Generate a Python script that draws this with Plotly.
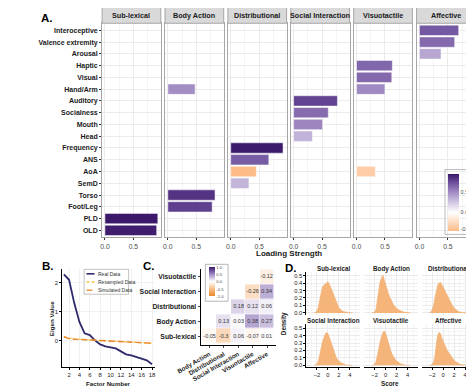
import plotly.graph_objects as go

W, H = 474, 389
def fx(p): return p / W
def fy(p): return 1 - p / H

FONT = "Liberation Sans, Arial, Helvetica, sans-serif"
INK = "#1A1A1A"
TICK = "#4D4D4D"

# ---------------- Panel A data ----------------
variables = ["Interoceptive", "Valence extremity", "Arousal", "Haptic", "Visual", "Hand/Arm",
             "Auditory", "Socialness", "Mouth", "Head", "Frequency", "ANS", "AoA", "SemD",
             "Torso", "Foot/Leg", "PLD", "OLD"]
factor_names = ["Sub-lexical", "Body Action", "Distributional", "Social Interaction",
                "Visuotactile", "Affective"]
sublex_vars = ["PLD", "OLD"]
sublex_load = [0.93, 0.91]
body_vars = ["Hand/Arm", "Torso", "Foot/Leg"]
body_load = [0.48, 0.83, 0.78]
dist_vars = ["Frequency", "ANS", "AoA", "SemD"]
dist_load = [0.92, 0.67, -0.45, 0.32]
social_vars = ["Auditory", "Socialness", "Mouth", "Head"]
social_load = [0.77, 0.61, 0.51, 0.33]
visuo_vars = ["Haptic", "Visual", "Hand/Arm", "AoA"]
visuo_load = [0.63, 0.62, 0.50, -0.33]
affect_vars = ["Interoceptive", "Valence extremity", "Arousal"]
affect_load = [0.69, 0.62, 0.38]
loading_ticks = [0, 0.5]
loading_ticktext = ["0.0", "0.5"]
loading_cbar_ticks = [-0.4, 0.0, 0.5]
loading_cbar_text = ["-0.4", "0.0", "0.5"]

# ---------------- Panel B data ----------------
factor_number = [1, 2, 3, 4, 5, 6, 7, 8, 9, 10, 11, 12, 13, 14, 15, 16, 17, 18]
real_eigen = [2.29, 2.10, 1.30, 0.65, 0.26, 0.20, 0.02, -0.12, -0.19, -0.22, -0.26,
              -0.36, -0.46, -0.50, -0.56, -0.63, -0.67, -0.80]
resampled_eigen = [0.15, 0.09, 0.07, 0.05, 0.04, 0.03, 0.02, 0.01, 0.00, -0.01, -0.02,
                   -0.02, -0.03, -0.04, -0.05, -0.06, -0.07, -0.08]
simulated_eigen = [0.14, 0.08, 0.06, 0.05, 0.04, 0.03, 0.02, 0.01, 0.00, -0.01, -0.02,
                   -0.03, -0.03, -0.04, -0.05, -0.06, -0.07, -0.08]
factor_ticks = [2, 4, 6, 8, 10, 12, 14, 16, 18]
eigen_ticks = [0, 1, 2]

# ---------------- Panel C data ----------------
corr_rows = ["Sub-lexical", "Body Action", "Distributional", "Social Interaction", "Visuotactile"]
corr_cols = ["Body Action", "Distributional", "Social Interaction", "Visuotactile", "Affective"]
corr_sublex = [-0.05, -0.30, 0.06, -0.07, 0.01]
corr_body = [None, 0.13, 0.03, 0.38, 0.27]
corr_dist = [None, None, 0.18, 0.12, 0.06]
corr_social = [None, None, None, -0.26, 0.34]
corr_visuo = [None, None, None, None, -0.12]
corr_cbar_ticks = [-1, -0.5, 0, 0.5, 1]
corr_cbar_text = ["-1.0", "-0.5", "0.0", "0.5", "1.0"]

# ---------------- Panel D data ----------------
score_grid = [-2.5, -2.25, -2.0, -1.75, -1.5, -1.25, -1.0, -0.75, -0.5, -0.25, 0.0, 0.25,
              0.5, 0.75, 1.0, 1.25, 1.5, 1.75, 2.0, 2.25, 2.5, 2.75, 3.0, 3.25, 3.5, 3.75,
              4.0, 4.25, 4.5]
dens_sublex = [0, 0.005, 0.02, 0.07, 0.18, 0.30, 0.35, 0.37, 0.38, 0.40, 0.42, 0.39, 0.35,
               0.30, 0.25, 0.20, 0.15, 0.11, 0.07, 0.05, 0.03, 0.02, 0.015, 0.01, 0.007,
               0.005, 0.003, 0.001, 0]
dens_body = [0, 0.002, 0.01, 0.05, 0.15, 0.30, 0.42, 0.48, 0.51, 0.44, 0.37, 0.31, 0.26,
             0.21, 0.17, 0.13, 0.10, 0.08, 0.06, 0.045, 0.035, 0.025, 0.018, 0.012, 0.008,
             0.005, 0.003, 0.002, 0]
dens_dist = [0.002, 0.01, 0.04, 0.10, 0.20, 0.30, 0.37, 0.40, 0.41, 0.38, 0.35, 0.31, 0.27,
             0.23, 0.19, 0.15, 0.12, 0.09, 0.065, 0.045, 0.03, 0.02, 0.013, 0.008, 0.005,
             0.003, 0.002, 0.001, 0]
dens_social = [0, 0.005, 0.02, 0.05, 0.12, 0.22, 0.31, 0.38, 0.42, 0.44, 0.43, 0.38, 0.32,
               0.26, 0.20, 0.15, 0.11, 0.08, 0.055, 0.04, 0.03, 0.02, 0.013, 0.008, 0.005,
               0.003, 0.002, 0.001, 0]
dens_visuo = [0, 0.005, 0.015, 0.05, 0.12, 0.22, 0.32, 0.40, 0.44, 0.46, 0.43, 0.37, 0.30,
              0.23, 0.18, 0.14, 0.10, 0.08, 0.06, 0.04, 0.03, 0.02, 0.013, 0.008, 0.005,
              0.003, 0.002, 0.001, 0]
dens_affect = [0, 0.003, 0.01, 0.04, 0.12, 0.28, 0.40, 0.44, 0.43, 0.37, 0.32, 0.28, 0.24,
               0.20, 0.17, 0.14, 0.11, 0.085, 0.065, 0.05, 0.035, 0.025, 0.017, 0.011,
               0.007, 0.004, 0.002, 0.001, 0]
score_ticks = [-2, 0, 2, 4]
density_ticks = [0.0, 0.1, 0.2, 0.3, 0.4, 0.5]
density_ticktext = ["0.0", "0.1", "0.2", "0.3", "0.4", "0.5"]

# =====================================================================
fig = go.Figure()
layout = dict(width=W, height=H, autosize=False, margin=dict(l=0, r=0, t=0, b=0),
              paper_bgcolor="white", plot_bgcolor="white", showlegend=False,
              font=dict(family=FONT, color=INK))
shapes, annotations = [], []

def ax_names(n):
    return ("x" if n == 1 else f"x{n}", "y" if n == 1 else f"y{n}",
            "xaxis" if n == 1 else f"xaxis{n}", "yaxis" if n == 1 else f"yaxis{n}")

# ---------------- Panel A ----------------
A_scale = [[0.0, "#FDBB87"], [0.326, "#FFFFFF"], [0.507, "#D0C6E2"], [0.688, "#9F89C2"],
           [0.870, "#664896"], [1.0, "#3B1869"]]
facet_data = [(sublex_vars, sublex_load), (body_vars, body_load), (dist_vars, dist_load),
              (social_vars, social_load), (visuo_vars, visuo_load), (affect_vars, affect_load)]
NV = len(variables)
A_top, A_bot = 15.3, 230
for i, (vs, ls) in enumerate(facet_data):
    n = i + 1
    xn, yn, xk, yk = ax_names(n)
    ypos = [NV - 1 - variables.index(v) for v in vs]
    fig.add_trace(go.Bar(x=[abs(v) for v in ls], y=ypos, orientation="h", width=0.88,
                         marker=dict(color=ls, coloraxis="coloraxis",
                                     line=dict(color="white", width=0.5)),
                         xaxis=xn, yaxis=yn, hoverinfo="skip"))
    l = 74 + i * 66.4
    layout[xk] = dict(domain=[fx(l), fx(l + 62)], anchor=yn, range=[-0.05, 0.983],
                      tickmode="array", tickvals=loading_ticks, ticktext=loading_ticktext,
                      ticks="outside", ticklen=2, tickwidth=0.8, tickcolor="#333",
                      tickfont=dict(size=6.8, color=TICK), showgrid=True,
                      gridcolor="#EBEBEB", gridwidth=0.7,
                      minor=dict(tickvals=[0.25, 0.75], showgrid=True, gridcolor="#F4F4F4",
                                 gridwidth=0.5),
                      showline=True, mirror=True, linecolor="#A6A6A6", linewidth=1,
                      zeroline=False)
    layout[yk] = dict(domain=[fy(A_bot), fy(A_top)], anchor=xn, range=[-0.6, 17.6],
                      tickmode="array", tickvals=[NV - 1 - k for k in range(NV)],
                      ticktext=variables, showticklabels=(n == 1),
                      ticks="outside" if n == 1 else "", ticklen=2, tickwidth=0.8,
                      tickcolor="#333",
                      tickfont=dict(size=7, color=INK, weight="bold"),
                      showgrid=True, gridcolor="#EBEBEB", gridwidth=0.7,
                      showline=True, mirror=True, linecolor="#A6A6A6", linewidth=1,
                      zeroline=False)
    shapes.append(dict(type="rect", xref="paper", yref="paper", x0=fx(l), x1=fx(l + 62),
                       y0=fy(A_top), y1=fy(-2), fillcolor="#D9D9D9",
                       line=dict(color="#A6A6A6", width=1)))
    annotations.append(dict(x=fx(l + 31), y=fy(7.3), xref="paper", yref="paper",
                            text=f"<b>{factor_names[i]}</b>", showarrow=False,
                            font=dict(size=7.2, color=INK), xanchor="center", yanchor="middle"))

layout["coloraxis"] = dict(cmin=-0.45, cmax=0.93, colorscale=A_scale,
                           colorbar=dict(x=fx(439), xanchor="left", xpad=0, y=fy(166.5),
                                         yanchor="top", ypad=0, len=57, lenmode="pixels",
                                         thickness=11, thicknessmode="pixels", outlinewidth=0,
                                         tickmode="array", tickvals=loading_cbar_ticks,
                                         ticktext=loading_cbar_text, ticks="",
                                         tickfont=dict(size=5.5, color=TICK)))
shapes.append(dict(type="rect", xref="paper", yref="paper", x0=fx(436), x1=fx(466),
                   y0=fy(227), y1=fy(162), line=dict(color="#AAAAAA", width=0.8)))
annotations.append(dict(x=fx(271), y=fy(246), xref="paper", yref="paper",
                        text="<b>Loading Strength</b>", showarrow=False,
                        font=dict(size=8, color=INK), xanchor="center", yanchor="middle"))

# ---------------- Panel B ----------------
fig.add_trace(go.Scatter(x=factor_number, y=real_eigen, mode="lines",
                         line=dict(color="#2E2A6C", width=1.8), xaxis="x7", yaxis="y7"))
fig.add_trace(go.Scatter(x=factor_number, y=resampled_eigen, mode="lines",
                         line=dict(color="#F5C443", width=1.4, dash="3px,2px"),
                         xaxis="x7", yaxis="y7"))
fig.add_trace(go.Scatter(x=factor_number, y=simulated_eigen, mode="lines",
                         line=dict(color="#E8852E", width=1.4, dash="6px,3px"),
                         xaxis="x7", yaxis="y7"))
common_axis = dict(showline=True, linecolor="black", linewidth=1, ticks="outside", ticklen=2,
                   tickwidth=0.8, tickcolor="black", zeroline=False, showgrid=True,
                   gridcolor="#F0F0F0", gridwidth=0.5)
layout["xaxis7"] = dict(domain=[fx(32), fx(130)], anchor="y7", range=[0.7, 18.6],
                        tickmode="array", tickvals=factor_ticks,
                        tickfont=dict(size=6, color=INK), **common_axis)
layout["yaxis7"] = dict(domain=[fy(360), fy(262)], anchor="x7", range=[-0.9, 2.46],
                        tickmode="array", tickvals=eigen_ticks,
                        tickfont=dict(size=6, color=INK), **common_axis)
annotations.append(dict(x=fx(81), y=fy(376), xref="paper", yref="paper",
                        text="<b>Factor Number</b>", showarrow=False,
                        font=dict(size=6.2, color=INK), xanchor="center", yanchor="middle"))
annotations.append(dict(x=fx(20), y=fy(311), xref="paper", yref="paper",
                        text="<b>Eigen Value</b>", showarrow=False, textangle=-90,
                        font=dict(size=6.2, color=INK), xanchor="center", yanchor="middle"))
# manual legend
shapes.append(dict(type="rect", xref="paper", yref="paper", x0=fx(55), x1=fx(102),
                   y0=fy(287), y1=fy(262), fillcolor="white",
                   line=dict(color="#999999", width=0.6)))
leg_items = [("Real Data", "#2E2A6C", "solid", 1.6),
             ("Resampled Data", "#F5C443", "3px,2px", 1.3),
             ("Simulated Data", "#E8852E", "6px,3px", 1.3)]
for k, (name, col, dash, wd) in enumerate(leg_items):
    yy = 266.5 + k * 8.2
    shapes.append(dict(type="line", xref="paper", yref="paper", x0=fx(57.5), x1=fx(66),
                       y0=fy(yy), y1=fy(yy), line=dict(color=col, width=wd, dash=dash)))
    annotations.append(dict(x=fx(68), y=fy(yy), xref="paper", yref="paper", text=name,
                            showarrow=False, font=dict(size=5, color="#333"),
                            xanchor="left", yanchor="middle"))

# ---------------- Panel C ----------------
corr_z = [corr_sublex, corr_body, corr_dist, corr_social, corr_visuo]
corr_text = [["" if v is None else ("%g" % v) for v in row] for row in corr_z]
C_scale = [[0.0, "#EE8A2A"], [0.25, "#F6BE8A"], [0.5, "#FFFFFF"], [0.75, "#9E88C2"],
           [1.0, "#3B1A6B"]]
fig.add_trace(go.Heatmap(z=corr_z, x=list(range(len(corr_cols))),
                         y=list(range(len(corr_rows))), text=corr_text,
                         texttemplate="%{text}", textfont=dict(size=5.5, color="#333"),
                         coloraxis="coloraxis2", xgap=0.6, ygap=0.6,
                         xaxis="x8", yaxis="y8", hoverinfo="skip"))
layout["coloraxis2"] = dict(cmin=-1, cmax=1, colorscale=C_scale,
                            colorbar=dict(x=fx(186.5), xanchor="left", xpad=0, y=fy(260),
                                          yanchor="top", ypad=0, len=29, lenmode="pixels",
                                          thickness=6, thicknessmode="pixels", outlinewidth=0,
                                          tickmode="array", tickvals=corr_cbar_ticks,
                                          ticktext=corr_cbar_text, ticks="",
                                          tickfont=dict(size=4.2, color=TICK)))
shapes.append(dict(type="rect", xref="paper", yref="paper", x0=fx(183), x1=fx(207),
                   y0=fy(294), y1=fy(257), line=dict(color="#888888", width=0.6)))
layout["xaxis8"] = dict(domain=[fx(178), fx(258)], anchor="y8", range=[-0.6, 4.65],
                        tickmode="array", tickvals=list(range(len(corr_cols))),
                        ticktext=corr_cols, tickangle=-30,
                        tickfont=dict(size=6.3, color=INK, weight="bold"),
                        showline=True, linecolor="black", linewidth=1, ticks="outside",
                        ticklen=2, tickwidth=0.8, showgrid=False, zeroline=False)
layout["yaxis8"] = dict(domain=[fy(338), fy(262)], anchor="x8", range=[-0.6, 4.5],
                        tickmode="array", tickvals=list(range(len(corr_rows))),
                        ticktext=corr_rows, tickfont=dict(size=6.8, color=INK, weight="bold"),
                        showline=True, linecolor="black", linewidth=1, ticks="outside",
                        ticklen=2, tickwidth=0.8, showgrid=False, zeroline=False)

# ---------------- Panel D ----------------
dens_all = [dens_sublex, dens_body, dens_dist, dens_social, dens_visuo, dens_affect]
D_cols = [289.7, 350.7, 411.4]
D_w = 56.6
D_rows = [(264.6, 307.7), (317.2, 360.3)]
D_title_y = [261.5, 313.3]
for idx in range(6):
    r, c = divmod(idx, 3)
    n = 9 + idx
    xn, yn, xk, yk = ax_names(n)
    fig.add_trace(go.Scatter(x=score_grid, y=dens_all[idx], mode="lines", fill="tozeroy",
                             fillcolor="#F4B47A", line=dict(color="#F0AC6E", width=0.6),
                             xaxis=xn, yaxis=yn, hoverinfo="skip"))
    l = D_cols[c]
    top, bot = D_rows[r]
    layout[xk] = dict(domain=[fx(l), fx(l + D_w)], anchor=yn, range=[-3.9, 5.85],
                      tickmode="array", tickvals=score_ticks, showticklabels=(r == 1),
                      ticks="outside" if r == 1 else "", ticklen=2, tickwidth=0.8,
                      tickcolor="black", tickfont=dict(size=5.8, color=INK),
                      showline=(r == 1), linecolor="black", linewidth=1,
                      showgrid=True, gridcolor="#EBEBEB", gridwidth=0.6,
                      minor=dict(tickvals=[-3, -1, 1, 3, 5], showgrid=True,
                                 gridcolor="#F5F5F5", gridwidth=0.4),
                      zeroline=False)
    layout[yk] = dict(domain=[fy(bot), fy(top)], anchor=xn, range=[-0.027, 0.55],
                      tickmode="array", tickvals=density_ticks, ticktext=density_ticktext,
                      showticklabels=(c == 0), ticks="outside" if c == 0 else "",
                      ticklen=2, tickwidth=0.8, tickcolor="black",
                      tickfont=dict(size=5.8, color=INK),
                      showline=(c == 0), linecolor="black", linewidth=1,
                      showgrid=True, gridcolor="#EBEBEB", gridwidth=0.6,
                      minor=dict(tickvals=[0.05, 0.15, 0.25, 0.35, 0.45], showgrid=True,
                                 gridcolor="#F5F5F5", gridwidth=0.4),
                      zeroline=False)
    annotations.append(dict(x=fx(l + D_w / 2), y=fy(D_title_y[r]), xref="paper",
                            yref="paper", text=f"<b>{factor_names[idx]}</b>",
                            showarrow=False, font=dict(size=6.3, color=INK),
                            xanchor="center", yanchor="middle"))
annotations.append(dict(x=fx(378), y=fy(376), xref="paper", yref="paper",
                        text="<b>Score</b>", showarrow=False, font=dict(size=6.3, color=INK),
                        xanchor="center", yanchor="middle"))
annotations.append(dict(x=fx(266), y=fy(316), xref="paper", yref="paper",
                        text="<b>Density</b>", showarrow=False, textangle=-90,
                        font=dict(size=6.3, color=INK), xanchor="center", yanchor="middle"))

# ---------------- Panel letters ----------------
for letter, px, py in [("A.", 16, 10), ("B.", 17, 259), ("C.", 124, 259), ("D.", 273, 261)]:
    annotations.append(dict(x=fx(px), y=fy(py), xref="paper", yref="paper",
                            text=f"<b>{letter}</b>", showarrow=False,
                            font=dict(size=11.5, color="black"),
                            xanchor="center", yanchor="middle"))

layout["shapes"] = shapes
layout["annotations"] = annotations
fig.update_layout(**layout)
fig.write_html("out.html")
